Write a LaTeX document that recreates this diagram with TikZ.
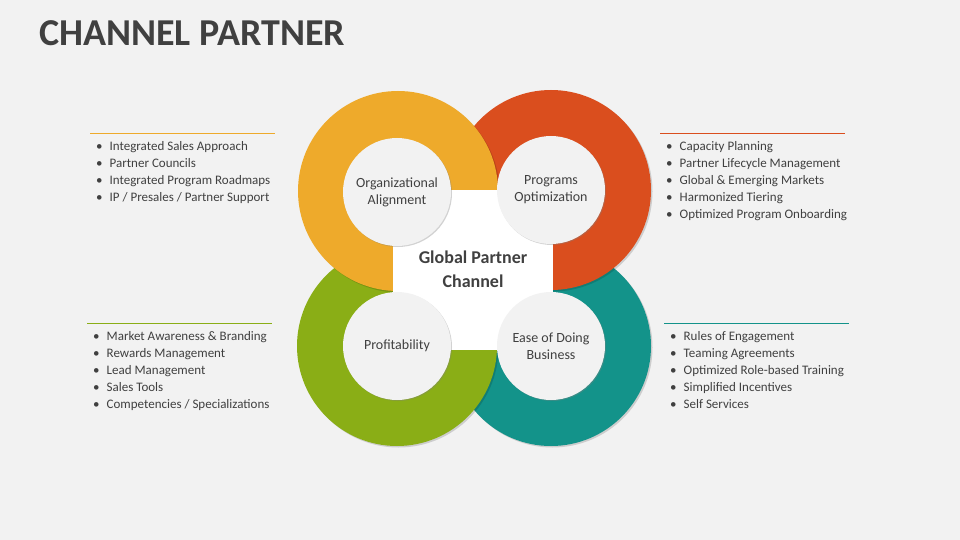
\documentclass[tikz,border=0pt]{standalone}
\usepackage{fontspec}
\setmainfont{Carlito}
\usetikzlibrary{shadows}
\definecolor{bg}{HTML}{F2F2F2}
\definecolor{txt}{HTML}{404040}
\definecolor{cO}{HTML}{EEAA2B}
\definecolor{cR}{HTML}{DA4E1E}
\definecolor{cG}{HTML}{8AAE16}
\definecolor{cT}{HTML}{13938A}
\tikzset{
 inner/.style={circle,minimum size=108pt,fill=bg,text=txt,font=\fontsize{14}{17}\selectfont,align=center,drop shadow={shadow xshift=1pt,shadow yshift=-1pt,opacity=.35}},
 lst/.style={anchor=north west,text=txt,font=\fontsize{13}{17}\selectfont,align=left,inner sep=0pt},
 rul/.style={line width=0.8pt}
}
\newcommand{\ringq}[6]{% cx cy kx ky sx sy  (s = sign of cut quadrant)
 \begin{scope}
 \clip (#3,#4) -- (#3+#5*300,#4) -- (#3+#5*300,#4-#6*300) -- (#3-#5*300,#4-#6*300) -- (#3-#5*300,#4+#6*300) -- (#3,#4+#6*300) -- cycle;
 \fill[black,opacity=.15] (#1+1.5,#2+1.5) circle (100);
 \fill[ringcol] (#1,#2) circle (100);
 \end{scope}}
\begin{document}
\begin{tikzpicture}[x=1pt,y=-1pt]
\fill[bg] (0,0) rectangle (960,540);
\useasboundingbox (0,0) rectangle (960,540);
\node[anchor=base west,inner sep=0pt,text=txt,font=\fontsize{38}{40}\selectfont\bfseries] (title) at (39,46) {CHANNEL PARTNER};
\colorlet{ringcol}{cT}\ringq{551}{346}{553}{350}{-1}{-1}
\colorlet{ringcol}{cR}\ringq{551}{190}{553}{190}{-1}{1}
\colorlet{ringcol}{cG}\ringq{397}{346}{393}{350}{1}{-1}
\colorlet{ringcol}{cO}\ringq{398}{191}{393}{190}{1}{1}
\fill[white] (393,190) rectangle (553,350);
\node[text=txt,font=\fontsize{18}{24}\selectfont\bfseries,align=center] (center) at (473,269) {Global Partner\\Channel};
\node[inner] (o) at (397,192) {Organizational\\Alignment};
\node[inner] (r) at (551,190) {Programs\\Optimization};
\node[inner] (g) at (397,346) {Profitability};
\node[inner] (t) at (551,346) {Ease of Doing\\Business};
\draw[rul,cO] (90,133) -- (275,133);
\draw[rul,cR] (660,133) -- (845,133);
\draw[rul,cG] (87,323) -- (272,323);
\draw[rul,cT] (664,323) -- (849,323);
\node[lst] (l1) at (96,141) {•\hspace{7pt}Integrated Sales Approach\\•\hspace{7pt}Partner Councils\\•\hspace{7pt}Integrated Program Roadmaps\\•\hspace{7pt}IP / Presales / Partner Support};
\node[lst] (l2) at (666,141) {•\hspace{7pt}Capacity Planning\\•\hspace{7pt}Partner Lifecycle Management\\•\hspace{7pt}Global \& Emerging Markets\\•\hspace{7pt}Harmonized Tiering\\•\hspace{7pt}Optimized Program Onboarding};
\node[lst] (l3) at (93,331) {•\hspace{7pt}Market Awareness \& Branding\\•\hspace{7pt}Rewards Management\\•\hspace{7pt}Lead Management\\•\hspace{7pt}Sales Tools\\•\hspace{7pt}Competencies / Specializations};
\node[lst] (l4) at (670,331) {•\hspace{7pt}Rules of Engagement\\•\hspace{7pt}Teaming Agreements\\•\hspace{7pt}Optimized Role-based Training\\•\hspace{7pt}Simplified Incentives\\•\hspace{7pt}Self Services};
\end{tikzpicture}
\end{document}
